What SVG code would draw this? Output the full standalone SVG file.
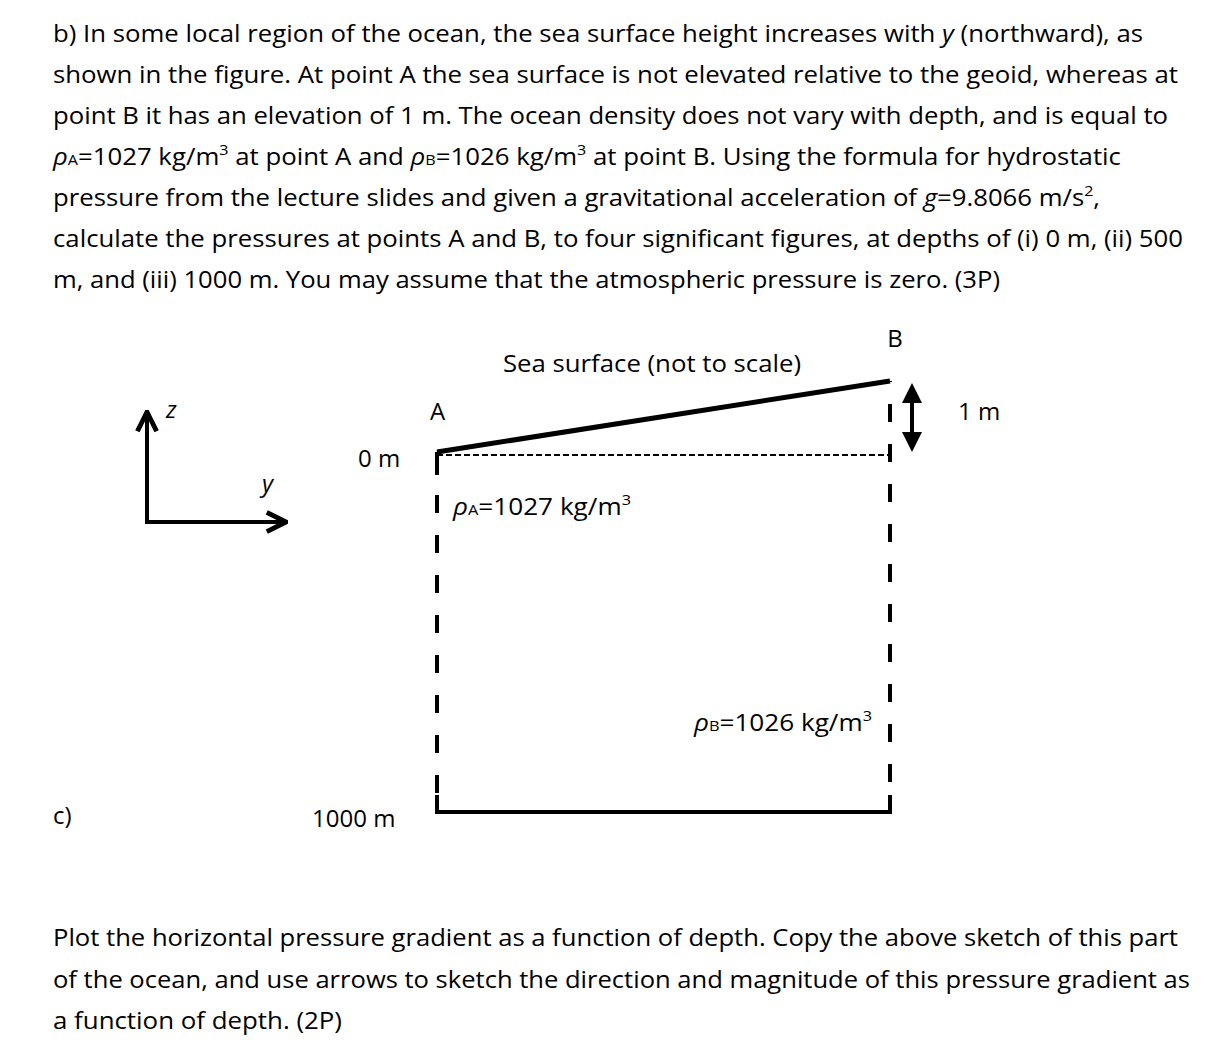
<svg xmlns="http://www.w3.org/2000/svg" width="1216" height="1056" viewBox="0 0 1216 1056">
<style>
text{font-family:"Open Sans","Liberation Sans",sans-serif;font-size:24px;fill:#000}
.s{stroke:#000;fill:none}
</style>
<defs>
<marker id="ah" viewBox="0 0 10 10" refX="8" refY="5" markerWidth="5" markerHeight="5" orient="auto-start-reverse"><path d="M0,0 L10,5 L0,10 z" fill="#000"/></marker>
<marker id="oa" viewBox="0 0 10 10" refX="9" refY="5" markerWidth="6" markerHeight="6" orient="auto"><path d="M1,1 L9,5 L1,9" fill="none" stroke="#000" stroke-width="2"/></marker>
</defs>
<rect width="1216" height="1056" fill="#fff"/>
<g id="question-b">
<text x="53" y="42" textLength="1090" lengthAdjust="spacingAndGlyphs">b) In some local region of the ocean, the sea surface height increases with <tspan font-style="italic">y</tspan> (northward), as</text>
<text x="53" y="83" textLength="1125" lengthAdjust="spacingAndGlyphs">shown in the figure. At point A the sea surface is not elevated relative to the geoid, whereas at</text>
<text x="53" y="124" textLength="1115" lengthAdjust="spacingAndGlyphs">point B it has an elevation of 1 m. The ocean density does not vary with depth, and is equal to</text>
<text x="53" y="165" textLength="1068" lengthAdjust="spacingAndGlyphs"><tspan font-style="italic">ρ</tspan><tspan font-size="15">A</tspan>=1027 kg/m<tspan font-size="15" dy="-10">3</tspan><tspan dy="10"> at point A and </tspan><tspan font-style="italic">ρ</tspan><tspan font-size="15">B</tspan>=1026 kg/m<tspan font-size="15" dy="-10">3</tspan><tspan dy="10"> at point B. Using the formula for hydrostatic</tspan></text>
<text x="53" y="206" textLength="1047" lengthAdjust="spacingAndGlyphs">pressure from the lecture slides and given a gravitational acceleration of <tspan font-style="italic">g</tspan>=9.8066 m/s<tspan font-size="15" dy="-10">2</tspan><tspan dy="10">,</tspan></text>
<text x="53" y="247" textLength="1130" lengthAdjust="spacingAndGlyphs">calculate the pressures at points A and B, to four significant figures, at depths of (i) 0 m, (ii) 500</text>
<text x="53" y="288" textLength="947" lengthAdjust="spacingAndGlyphs">m, and (iii) 1000 m. You may assume that the atmospheric pressure is zero. (3P)</text>
</g>
<g id="axes">
<path class="s" d="M147,522 V412" stroke-width="4" marker-end="url(#oa)"/>
<path class="s" d="M145,522 H286" stroke-width="4" marker-end="url(#oa)"/>
<text x="166" y="418" font-style="italic">z</text>
<text x="262" y="492" font-style="italic">y</text>
</g>
<g id="box">
<path class="s" d="M437,452 L890,381" stroke-width="5"/>
<path class="s" d="M437,455 H890" stroke-width="2" stroke-dasharray="6,3"/>
<path class="s" d="M437,455 V812 H890 V381" stroke-width="4" stroke-dasharray="18,22"/>
<path class="s" d="M437,795 V812 H890 V795" stroke-width="4"/>
<path class="s" d="M437,452 V475" stroke-width="4"/>
<path class="s" d="M912,387 V448" stroke-width="4" marker-start="url(#ah)" marker-end="url(#ah)"/>
</g>
<g id="labels">
<text x="895" y="347" text-anchor="middle">B</text>
<text x="503" y="372" textLength="298" lengthAdjust="spacingAndGlyphs">Sea surface (not to scale)</text>
<text x="430" y="420">A</text>
<text x="958" y="420">1 m</text>
<text x="358" y="467">0 m</text>
<text x="453" y="515" textLength="178" lengthAdjust="spacingAndGlyphs"><tspan font-style="italic">ρ</tspan><tspan font-size="15">A</tspan>=1027 kg/m<tspan font-size="15" dy="-10">3</tspan></text>
<text x="694" y="731" textLength="178" lengthAdjust="spacingAndGlyphs"><tspan font-style="italic">ρ</tspan><tspan font-size="15">B</tspan>=1026 kg/m<tspan font-size="15" dy="-10">3</tspan></text>
<text x="312" y="827">1000 m</text>
</g>
<g id="question-c">
<text x="53" y="824">c)</text>
<text x="53" y="946" textLength="1125" lengthAdjust="spacingAndGlyphs">Plot the horizontal pressure gradient as a function of depth. Copy the above sketch of this part</text>
<text x="53" y="988" textLength="1137" lengthAdjust="spacingAndGlyphs">of the ocean, and use arrows to sketch the direction and magnitude of this pressure gradient as</text>
<text x="53" y="1029" textLength="289" lengthAdjust="spacingAndGlyphs">a function of depth. (2P)</text>
</g>
</svg>
